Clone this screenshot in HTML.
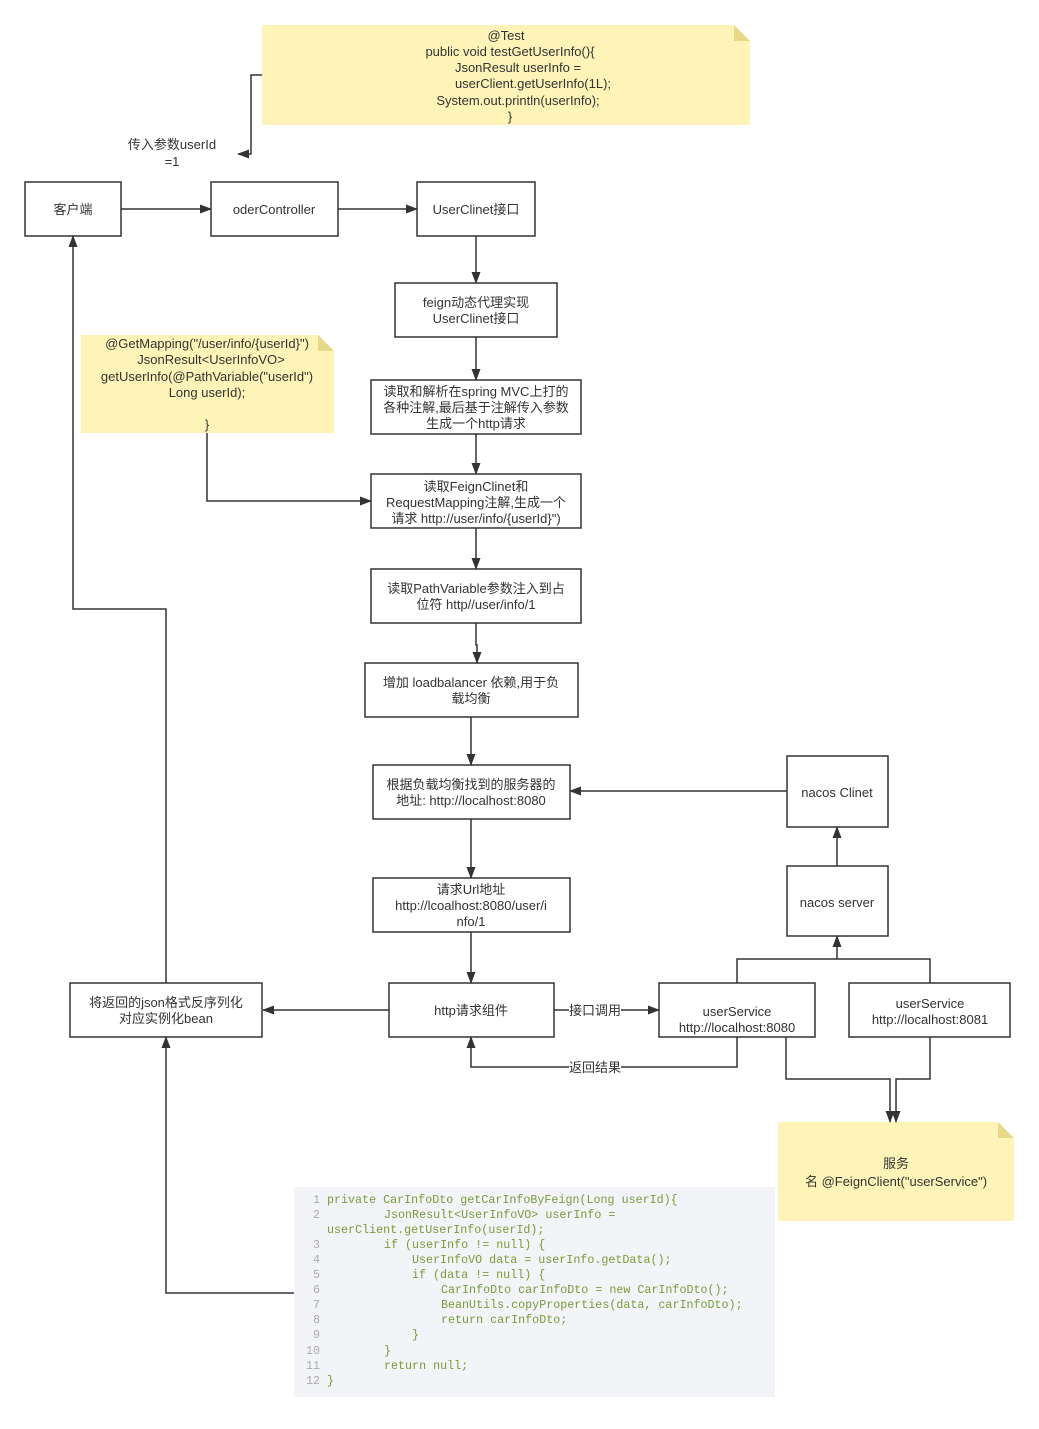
<!DOCTYPE html>
<html><head><meta charset="utf-8"><style>
body{margin:0;background:#fff;}
svg text{font-family:"Liberation Sans","Noto Sans CJK SC",sans-serif;font-size:13px;fill:#333;}
.c text{font-family:"Liberation Mono","DejaVu Sans Mono",monospace;font-size:11.7px;fill:#7a9a3a;white-space:pre;}
.c .n{fill:#aaa;}
</style></head><body>
<svg width="1039" height="1424" viewBox="0 0 1039 1424" xmlns="http://www.w3.org/2000/svg">
<defs><marker id="a" markerWidth="12" markerHeight="12" refX="11" refY="6" orient="auto" markerUnits="userSpaceOnUse"><path d="M0,1.5 L12,6 L0,10.5 Z" fill="#333"/></marker></defs>
<path d="M262,25 H734 L750,41 V125 H262 Z" fill="#fff4b8"/><path d="M734,25 L750,41 H734 Z" fill="#e8d98a"/>
<path d="M81,335 H318 L334,351 V433 H81 Z" fill="#fff4b8"/><path d="M318,335 L334,351 H318 Z" fill="#e8d98a"/>
<path d="M778,1122 H998 L1014,1138 V1221 H778 Z" fill="#fff4b8"/><path d="M998,1122 L1014,1138 H998 Z" fill="#e8d98a"/>
<rect x="294" y="1187" width="481" height="210" fill="#f3f4f7"/>
<g text-anchor="middle">
<text x="506" y="40">@Test</text><text x="510" y="56">public void testGetUserInfo(){</text>
<text x="518" y="72">JsonResult userInfo =</text><text x="533" y="88">userClient.getUserInfo(1L);</text>
<text x="518" y="105">System.out.println(userInfo);</text><text x="510" y="121">}</text>
<text x="207" y="348">@GetMapping("/user/info/{userId}")</text><text x="211" y="364">JsonResult&lt;UserInfoVO&gt;</text>
<text x="207" y="381">getUserInfo(@PathVariable("userId")</text><text x="207" y="397">Long userId);</text><text x="207" y="429">}</text>
<text x="896" y="1168">服务</text><text x="896" y="1186">名 @FeignClient("userService")</text>
<text x="172" y="149">传入参数userId</text><text x="172" y="166">=1</text>
</g>
<g fill="none" stroke="#333" stroke-width="1.5">
<rect x="25" y="182" width="96" height="54"/><rect x="211" y="182" width="127" height="54"/><rect x="417" y="182" width="118" height="54"/>
<rect x="395" y="283" width="162" height="54"/><rect x="371" y="380" width="210" height="54"/><rect x="371" y="474" width="210" height="54"/>
<rect x="371" y="569" width="210" height="54"/><rect x="365" y="663" width="213" height="54"/><rect x="373" y="765" width="197" height="54"/>
<rect x="373" y="878" width="197" height="54"/><rect x="389" y="983" width="165" height="54"/><rect x="70" y="983" width="192" height="54"/>
<rect x="659" y="983" width="156" height="54"/><rect x="849" y="983" width="161" height="54"/>
<rect x="787" y="756" width="101" height="71"/><rect x="787" y="866" width="101" height="70"/>
</g>
<g fill="none" stroke="#333" stroke-width="1.5" marker-end="url(#a)">
<path d="M262,75 H251 V154 H238"/>
<path d="M121,209 H211"/><path d="M338,209 H417"/>
<path d="M476,236 V283"/><path d="M476,337 V380"/><path d="M476,434 V474"/><path d="M476,528 V569"/>
<path d="M476,623 V645 H477 V663"/><path d="M471,717 V765"/><path d="M471,819 V878"/><path d="M471,932 V983"/>
<path d="M207,433 V501 H371"/>
<path d="M389,1010 H263"/><path d="M554,1010 H659"/>
<path d="M737,1037 V1067 H471 V1037"/>
<path d="M166,983 V609 H73 V236"/>
<path d="M294,1293 H166 V1037"/>
<path d="M787,791 H570"/><path d="M837,866 V827"/>
<path d="M737,983 V959 H930 V983 M837,959 V936"/>
<path d="M786,1037 V1079 H890 V1122"/><path d="M930,1037 V1079 H896 V1122"/>
</g>
<rect x="569" y="1002" width="52" height="16" fill="#fff"/><rect x="569" y="1059" width="52" height="16" fill="#fff"/>
<g text-anchor="middle">
<text x="595" y="1015">接口调用</text><text x="595" y="1072">返回结果</text>
<text x="73" y="214">客户端</text><text x="274" y="214">oderController</text><text x="476" y="214">UserClinet接口</text>
<text x="476" y="307">feign动态代理实现</text><text x="476" y="323">UserClinet接口</text>
<text x="476" y="396">读取和解析在spring MVC上打的</text><text x="476" y="412">各种注解,最后基于注解传入参数</text><text x="476" y="428">生成一个http请求</text>
<text x="476" y="491">读取FeignClinet和</text><text x="476" y="507">RequestMapping注解,生成一个</text><text x="476" y="523">请求 http://user/info/{userId}")</text>
<text x="476" y="593">读取PathVariable参数注入到占</text><text x="476" y="609">位符 http//user/info/1</text>
<text x="471" y="687">增加 loadbalancer 依赖,用于负</text><text x="471" y="703">载均衡</text>
<text x="471" y="789">根据负载均衡找到的服务器的</text><text x="471" y="805">地址: http://localhost:8080</text>
<text x="471" y="894">请求Url地址</text><text x="471" y="910">http://lcoalhost:8080/user/i</text><text x="471" y="926">nfo/1</text>
<text x="471" y="1015">http请求组件</text>
<text x="166" y="1007">将返回的json格式反序列化</text><text x="166" y="1023">对应实例化bean</text>
<text x="737" y="1016">userService</text><text x="737" y="1032">http://localhost:8080</text>
<text x="930" y="1008">userService</text><text x="930" y="1024">http://localhost:8081</text>
<text x="837" y="797">nacos Clinet</text><text x="837" y="907">nacos server</text>
</g>
<g class="c">
<g text-anchor="end">
<text class="n" x="320" y="1203">1</text><text class="n" x="320" y="1218">2</text><text class="n" x="320" y="1248">3</text>
<text class="n" x="320" y="1263">4</text><text class="n" x="320" y="1278">5</text><text class="n" x="320" y="1293">6</text>
<text class="n" x="320" y="1308">7</text><text class="n" x="320" y="1323">8</text><text class="n" x="320" y="1338">9</text>
<text class="n" x="320" y="1354">10</text><text class="n" x="320" y="1369">11</text><text class="n" x="320" y="1384">12</text>
</g>
<text x="327" y="1203">private CarInfoDto getCarInfoByFeign(Long userId){</text>
<text x="384" y="1218">JsonResult&lt;UserInfoVO&gt; userInfo =</text>
<text x="327" y="1233">userClient.getUserInfo(userId);</text>
<text x="384" y="1248">if (userInfo != null) {</text>
<text x="412" y="1263">UserInfoVO data = userInfo.getData();</text>
<text x="412" y="1278">if (data != null) {</text>
<text x="441" y="1293">CarInfoDto carInfoDto = new CarInfoDto();</text>
<text x="441" y="1308">BeanUtils.copyProperties(data, carInfoDto);</text>
<text x="441" y="1323">return carInfoDto;</text>
<text x="412" y="1338">}</text>
<text x="384" y="1354">}</text>
<text x="384" y="1369">return null;</text>
<text x="327" y="1384">}</text>
</g>
</svg>
</body></html>
